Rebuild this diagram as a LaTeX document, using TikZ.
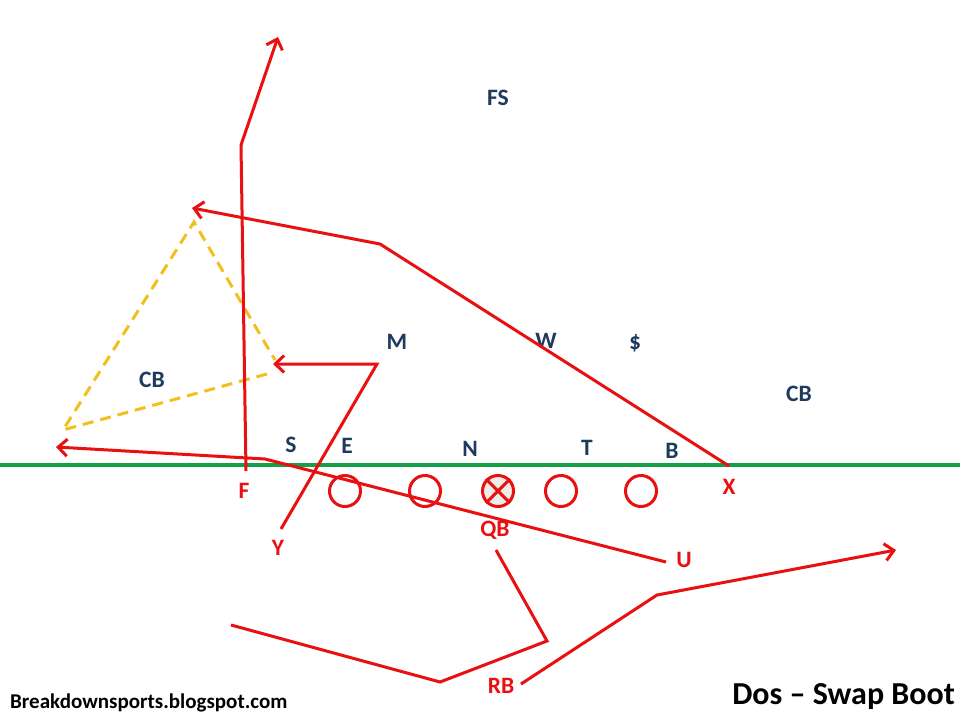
\documentclass[tikz,border=0pt]{standalone}
\usepackage{fontspec}
\setmainfont{Carlito}
\usetikzlibrary{arrows.meta}
\definecolor{rred}{HTML}{E81010}
\definecolor{navy}{HTML}{1F3A5F}
\definecolor{fgreen}{HTML}{14A04A}
\definecolor{gold}{HTML}{F2C01E}
\definecolor{cfill}{HTML}{EEECE6}
\tikzset{
  route/.style={draw=rred,line width=3pt,line join=miter},
  arr/.style={-{Straight Barb[length=9pt,width=17pt,line width=3pt]}},
  deflab/.style={text=navy,font=\bfseries\fontsize{23.5}{23.5}\selectfont,inner sep=0pt},
  offlab/.style={text=rred,font=\bfseries\fontsize{23.5}{23.5}\selectfont,inner sep=0pt},
  lineman/.style={circle,draw=rred,line width=3pt,minimum size=31pt,inner sep=0pt},
}
\begin{document}
\begin{tikzpicture}[x=1pt,y=-1pt]
\useasboundingbox (0,0) rectangle (960,720);
\fill[white] (0,0) rectangle (960,720);
% line of scrimmage
\draw[fgreen,line width=3.4pt] (0,465) -- (960,465);
% zone triangle
\coordinate (t1) at (267,374);
\coordinate (t2) at (63,430);
\coordinate (t3) at (194,222);
\coordinate (t4) at (275,360);
\draw[gold,line width=3pt,dash pattern=on 11pt off 7pt] (t1) -- (t2) -- (t3) -- (t4);
% defense labels
\node[deflab] (FS) at (498,98) {FS};
\node[deflab] (Mlab) at (397,342) {M};
\node[deflab] (W) at (546,341) {W};
\node[deflab] (D) at (635,343) {\$};
\node[deflab] (CBl) at (152,380) {CB};
\node[deflab] (CBr) at (799,394) {CB};
\node[deflab] (S) at (291,445) {S};
\node[deflab] (E) at (347,446) {E};
\node[deflab] (N) at (470,449) {N};
\node[deflab] (T) at (587,448) {T};
\node[deflab] (B) at (672,451) {B};
% offense labels
\node[offlab] (F) at (244,491) {F};
\node[offlab] (Y) at (278,548) {Y};
\node[offlab] (QB) at (495,530) {QB};
\node[offlab] (U) at (684,560) {U};
\node[offlab] (X) at (729,487) {X};
\node[offlab] (RB) at (501,686) {RB};
% linemen
\node[lineman] (L1) at (345,491) {};
\node[lineman] (L2) at (425,491) {};
\node[lineman,fill=cfill] (C) at (498,491) {};
\node[lineman] (L4) at (561,491) {};
\node[lineman] (L5) at (641,491) {};
\draw[rred,line width=3pt] (C.north west) -- (C.south east) (C.north east) -- (C.south west);
% route coordinates
\coordinate (f0) at (246,471);
\coordinate (f1) at (241,145);
\coordinate (f2) at (278,37);
\coordinate (x0) at (729,466);
\coordinate (x1) at (380,244);
\coordinate (x2) at (192,208);
\coordinate (y0) at (281,529);
\coordinate (y1) at (377,364);
\coordinate (y2) at (273,364);
\coordinate (u0) at (666,562);
\coordinate (u1) at (265,459);
\coordinate (u2) at (56,447);
\coordinate (q0) at (496,550);
\coordinate (q1) at (547,641);
\coordinate (q2) at (440,682);
\coordinate (q3) at (231,625);
\coordinate (r0) at (521,684);
\coordinate (r1) at (657,595);
\coordinate (r2) at (896,550);
% routes
\draw[route,arr] (f0) -- (f1) -- (f2);
\draw[route,arr] (x0) -- (x1) -- (x2);
\draw[route,arr] (y0) -- (y1) -- (y2);
\draw[route,arr] (u0) -- (u1) -- (u2);
\draw[route] (q0) -- (q1) -- (q2) -- (q3);
\draw[route,arr] (r0) -- (r1) -- (r2);
% captions
\node[anchor=west,inner sep=0pt,font=\bfseries\fontsize{21}{21}\selectfont] (blog) at (10,703) {Breakdownsports.blogspot.com};
\node[anchor=east,inner sep=0pt,font=\bfseries\fontsize{32}{32}\selectfont] (title) at (955,697) {Dos – Swap Boot};
\end{tikzpicture}
\end{document}
